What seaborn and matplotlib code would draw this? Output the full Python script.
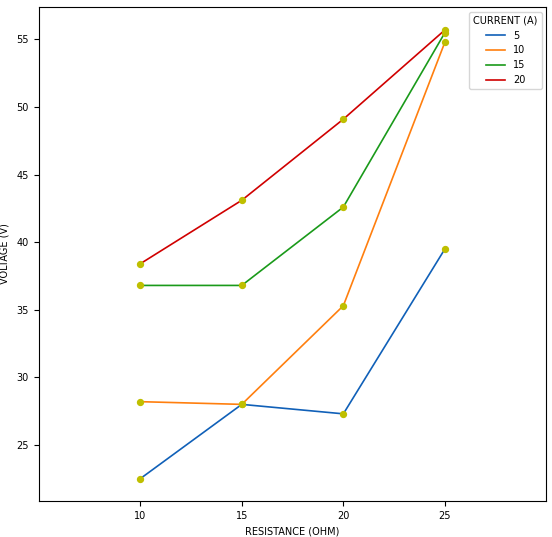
import pandas as pd
import matplotlib
matplotlib.use("Agg")
import matplotlib.pyplot as plt
import seaborn as sns

resistance = [10, 15, 20, 25]
currents = [5, 10, 15, 20]
voltage_5 = [22.5, 28.0, 27.3, 39.5]
voltage_10 = [28.2, 28.0, 35.3, 54.8]
voltage_15 = [36.8, 36.8, 42.6, 55.5]
voltage_20 = [38.4, 43.1, 49.1, 55.7]

rows = []
for cur, volts in zip(currents, [voltage_5, voltage_10, voltage_15, voltage_20]):
    for r, v in zip(resistance, volts):
        rows.append({"RESISTANCE (OHM)": r, "VOLTAGE (V)": v, "CURRENT (A)": cur})
data = pd.DataFrame(rows)

palette = ["#1060b8", "#ff7f0e", "#1a9a1a", "#d00000"]

fig, ax = plt.subplots(figsize=(5.52, 5.37), dpi=100)
sns.lineplot(data=data, x="RESISTANCE (OHM)", y="VOLTAGE (V)", hue="CURRENT (A)",
             palette=palette, ax=ax, linewidth=1.2)
ax.scatter(data["RESISTANCE (OHM)"], data["VOLTAGE (V)"], color="#bfbf00", s=18, zorder=3)
ax.set_xlim(5, 30)
ax.set_ylim(20.85, 57.4)
ax.set_xticks(resistance)
ax.tick_params(labelsize=7)
ax.xaxis.label.set_size(7)
ax.yaxis.label.set_size(7)
leg = ax.legend(title="CURRENT (A)", loc="upper right", fontsize=7, title_fontsize=7)
plt.subplots_adjust(left=0.07, right=0.99, top=0.987, bottom=0.067)
ax.yaxis.set_label_coords(-0.058, 0.5)
fig.savefig("out.png")
